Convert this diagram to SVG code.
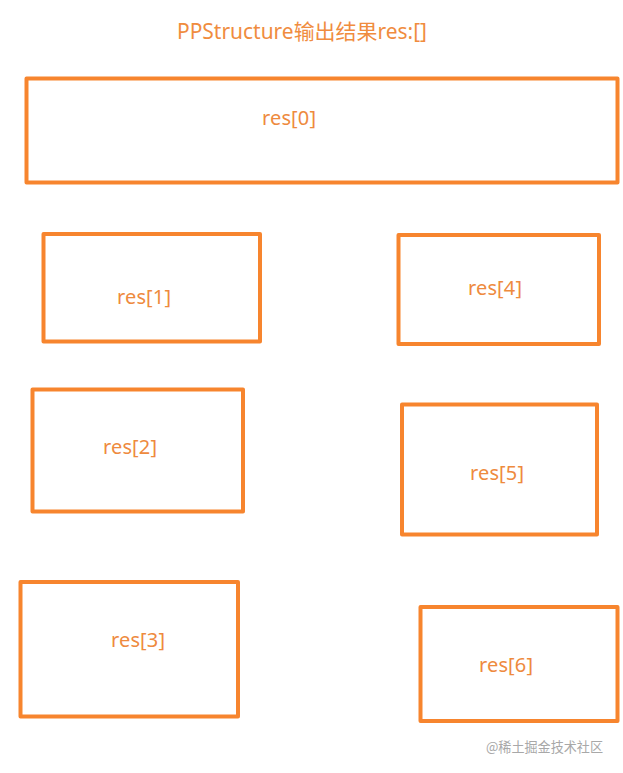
<svg xmlns="http://www.w3.org/2000/svg" width="623" height="773" viewBox="0 0 623 773">
<style>
.box{fill:none;stroke:#F7852E;stroke-width:4;stroke-linejoin:round}
.lbl{font-family:"Noto Sans","Noto Sans CJK SC",sans-serif;font-size:20px;fill:#EE8A3E}
.ttl{font-family:"Noto Sans","Noto Sans CJK SC",sans-serif;font-size:21px;fill:#F08C3E}
.wm{font-family:"Noto Sans CJK SC","Noto Sans",sans-serif;font-size:14px;fill:#A8A8A8}
</style>
<rect width="623" height="773" fill="#FFFFFF"/>
<text class="ttl" x="177" y="39" textLength="250" lengthAdjust="spacingAndGlyphs">PPStructure输出结果res:[]</text>
<g id="res0"><rect class="box" x="26.5" y="78.5" width="591" height="104"/><text class="lbl" x="262" y="125" textLength="54">res[0]</text></g>
<g id="res1"><rect class="box" x="43.5" y="234" width="216.5" height="107.5"/><text class="lbl" x="117" y="304" textLength="54">res[1]</text></g>
<g id="res4"><rect class="box" x="398.5" y="235" width="200.5" height="109"/><text class="lbl" x="468" y="295" textLength="54">res[4]</text></g>
<g id="res2"><rect class="box" x="32.5" y="389.5" width="210.5" height="122"/><text class="lbl" x="103" y="454" textLength="54">res[2]</text></g>
<g id="res5"><rect class="box" x="402" y="404.5" width="195" height="130"/><text class="lbl" x="470" y="480" textLength="54">res[5]</text></g>
<g id="res3"><rect class="box" x="20.5" y="582" width="217.5" height="134.5"/><text class="lbl" x="111" y="647" textLength="54">res[3]</text></g>
<g id="res6"><rect class="box" x="420.5" y="607" width="197" height="114"/><text class="lbl" x="479" y="672" textLength="54">res[6]</text></g>
<g id="connectors"></g>
<text class="wm" x="486" y="752" textLength="117" lengthAdjust="spacingAndGlyphs">@稀土掘金技术社区</text>
</svg>
